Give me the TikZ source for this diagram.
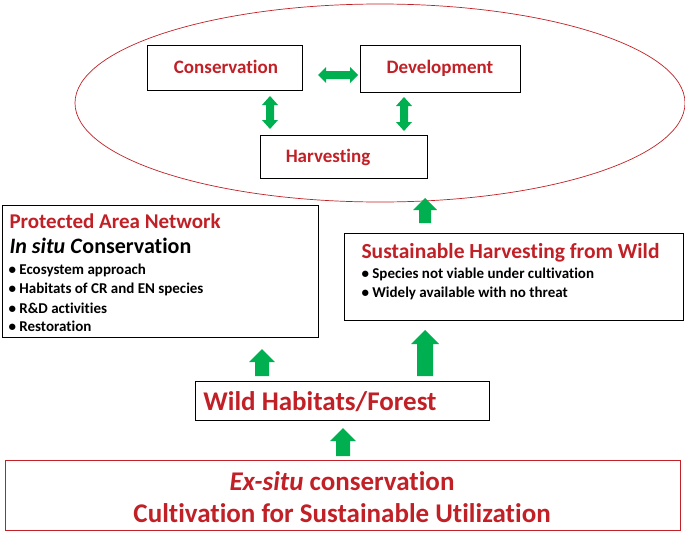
\documentclass[tikz,border=0pt]{standalone}
\usepackage{fontspec}
\setmainfont{Carlito}[Ligatures=NoCommon]
\usetikzlibrary{shapes.geometric}
\definecolor{dred}{RGB}{192,32,38}
\definecolor{grn}{RGB}{0,176,80}
% up arrow: name, x, ytop, ybot, half shaft, half head, head length
\newcommand{\uparr}[7]{\coordinate (#1) at (#2,#3);
  \fill[grn] (#2-#5,#4) -- (#2-#5,#3+#7) -- (#2-#6,#3+#7) -- (#2,#3) -- (#2+#6,#3+#7) -- (#2+#5,#3+#7) -- (#2+#5,#4) -- cycle;}
% vertical double arrow
\newcommand{\vdarr}[7]{\coordinate (#1) at (#2,#3);
  \fill[grn] (#2,#3) -- (#2+#6,#3+#7) -- (#2+#5,#3+#7) -- (#2+#5,#4-#7) -- (#2+#6,#4-#7) -- (#2,#4) -- (#2-#6,#4-#7) -- (#2-#5,#4-#7) -- (#2-#5,#3+#7) -- (#2-#6,#3+#7) -- cycle;}
\begin{document}
\begin{tikzpicture}[x=1pt,y=-1pt,
  box/.style={draw=black,line width=0.8pt},
  rt/.style={text=dred,font=\bfseries},
  lab/.style={rt,font=\bfseries\fontsize{19}{21}\selectfont},
  bl/.style={anchor=west,font=\bfseries\fontsize{15}{17}\selectfont}]
\useasboundingbox (0,0) rectangle (685,533);
\node[draw=dred,ellipse,line width=0.7pt,minimum width=610pt,minimum height=198pt] (ell) at (380,103) {};
\draw[box] (147,45) rectangle (302,90); \node[lab] (cons) at (226,67) {Conservation};
\draw[box] (360,45) rectangle (520,92); \node[lab] (dev) at (440,68) {Development};
\draw[box] (260,135) rectangle (427,178); \node[lab] (harv) at (328,157) {Harvesting};
\coordinate (d1) at (338,75);
\fill[grn] (318,75) -- (326,67) -- (326,71) -- (350,71) -- (350,67) -- (358,75) -- (350,83) -- (350,79) -- (326,79) -- (326,83) -- cycle;
\vdarr{d2}{270}{96}{129}{4}{8}{9}
\vdarr{d3}{404}{97}{131}{4}{8}{9}
\uparr{u1}{425}{198}{223}{6}{12}{12}
\draw[box] (2,205) rectangle (318,337);
\node[rt,anchor=west,font=\bfseries\fontsize{21}{23}\selectfont] (pan) at (6,221) {Protected Area Network};
\node[anchor=west,font=\bfseries\fontsize{22}{24}\selectfont] (ins) at (6,246) {\textit{In situ} \textit{C}onservation};
\node[bl] (b1) at (5,270) {• Ecosystem approach};
\node[bl] (b2) at (5,289) {• Habitats of CR and EN species};
\node[bl] (b3) at (5,308) {• R\&D activities};
\node[bl] (b4) at (5,326) {• Restoration};
\draw[box] (344,233) rectangle (683,320);
\node[rt,anchor=west,font=\bfseries\fontsize{21.5}{23}\selectfont] (shw) at (358,253) {Sustainable Harvesting from Wild};
\node[bl] (s1) at (358,274) {• Species not viable under cultivation};
\node[bl] (s2) at (358,293) {• Widely available with no threat};
\uparr{u2}{262}{349}{376}{7}{13}{13}
\uparr{u3}{425}{330}{376}{8}{14}{14}
\draw[box] (195,381) rectangle (489,420);
\node[rt,font=\bfseries\fontsize{27}{29}\selectfont] (wild) at (320,402) {Wild Habitats/Forest};
\uparr{u4}{343}{428}{456}{7}{13}{13}
\draw[draw=dred,line width=0.8pt] (5,460) rectangle (680,530);
\node[rt,font=\bfseries\fontsize{27}{29}\selectfont] (ex1) at (342,481) {\textit{Ex-situ} conservation};
\node[rt,font=\bfseries\fontsize{27}{29}\selectfont] (ex2) at (342,513) {Cultivation for Sustainable Utilization};
\end{tikzpicture}
\end{document}
